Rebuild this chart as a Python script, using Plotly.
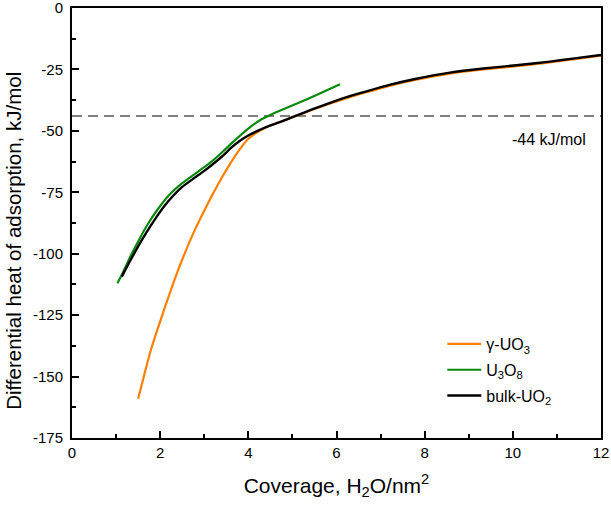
import plotly.graph_objects as go

# gamma-UO3
uo3_x = [1.5, 1.65, 1.8, 2.0, 2.2, 2.4, 2.6, 2.8, 3.0, 3.2, 3.4, 3.6, 3.8, 4.0, 4.2, 4.4, 4.7, 5.0, 5.5, 6.3, 6.68, 7.2, 7.81, 8.57, 9.33, 10.08, 10.84, 11.4, 12.0]
uo3_y = [-159, -148.5, -138.5, -127.5, -117, -107, -98, -89.8, -82.5, -75.5, -69, -63, -57.6, -53.2, -50.6, -48.6, -46.5, -44.5, -41.1, -36.3, -34.3, -31.7, -29.2, -26.7, -25.0, -23.7, -22.1, -20.8, -19.4]

# U3O8
u3o8_x = [1.03, 1.13, 1.3, 1.5, 1.7, 1.95, 2.2, 2.5, 2.75, 3.0, 3.2, 3.43, 3.66, 4.04, 4.3, 4.56, 5.17, 5.62, 6.08]
u3o8_y = [-112, -108.6, -102, -95, -88.5, -81.8, -76.2, -71.3, -68.0, -64.8, -62.0, -58.3, -54.4, -48.5, -45.3, -43.0, -38.4, -34.8, -31.0]

# bulk-UO2
uo2_x = [1.13, 1.3, 1.5, 1.7, 1.9, 2.1, 2.3, 2.5, 2.75, 3.0, 3.2, 3.43, 3.6, 3.81, 4.04, 4.26, 4.5, 4.79, 5.1, 5.4, 5.9, 6.3, 6.68, 7.2, 7.81, 8.57, 9.33, 10.08, 10.84, 11.4, 12.0]
uo2_y = [-109.3, -103.5, -97, -91, -85.5, -80.5, -76.3, -72.8, -69.5, -66.3, -63.5, -60, -57, -54, -51.5, -49.6, -47.8, -45.9, -43.7, -41.6, -38.3, -35.9, -33.9, -31.3, -28.8, -26.3, -24.6, -23.3, -21.8, -20.5, -19.1]

ref_level = -44
ref_label = "-44 kJ/mol"

y_ticks = [0, -25, -50, -75, -100, -125, -150, -175]
y_ticktext = ["0", "-25", "-50", "-75", "-100", "-125", "-150", "-175"]
x_ticks = [0, 2, 4, 6, 8, 10, 12]

x_title = "Coverage, H<sub>2</sub>O/nm<sup>2</sup>"
y_title = "Differential heat of adsorption, kJ/mol"

font_family = "Liberation Sans, Arial, sans-serif"

fig = go.Figure()
fig.add_trace(go.Scatter(x=[0, 12], y=[ref_level, ref_level], mode="lines",
                         line=dict(color="#808080", width=2, dash="10px,6px"),
                         showlegend=False, hoverinfo="skip"))
fig.add_trace(go.Scatter(x=uo3_x, y=uo3_y, mode="lines", name="γ-UO<sub>3</sub>", legendgroup="a",
                         line=dict(color="#FF8000", width=2.2, shape="spline", smoothing=0.5)))
fig.add_trace(go.Scatter(x=u3o8_x, y=u3o8_y, mode="lines", name="U<sub>3</sub>O<sub>8</sub>", legendgroup="b",
                         line=dict(color="#0A8A0A", width=2.2, shape="spline", smoothing=0.5)))
fig.add_trace(go.Scatter(x=uo2_x, y=uo2_y, mode="lines", name="bulk-UO<sub>2</sub>", legendgroup="c",
                         line=dict(color="#000000", width=2.4, shape="spline", smoothing=0.5)))

fig.add_annotation(x=11.70, y=-53.7, xref="x", yref="y", text=ref_label,
                   showarrow=False, xanchor="right", yanchor="middle",
                   font=dict(size=16, color="#000000", family=font_family))

# y-axis title (placed as rotated text, slightly below the axis centre as in the reference)
fig.add_annotation(x=-0.112, y=0.458, xref="paper", yref="paper", text=y_title,
                   showarrow=False, textangle=-90, xanchor="center", yanchor="middle",
                   font=dict(size=20.5, color="#000000", family=font_family))

axis_common = dict(showline=True, linecolor="black", linewidth=2, mirror=True,
                   ticks="inside", tickcolor="black", tickwidth=1.5, ticklen=7,
                   showgrid=False, zeroline=False, automargin=False,
                   ticklabeloverflow="allow",
                   tickfont=dict(size=15, color="black", family=font_family))

fig.update_xaxes(range=[0, 12], tickvals=x_ticks,
                 minor=dict(ticks="inside", dtick=1, ticklen=4, tickcolor="black", tickwidth=1.5),
                 title=dict(text=x_title,
                            font=dict(size=21, color="black", family=font_family), standoff=18),
                 **axis_common)
fig.update_yaxes(range=[-175, 0], tickvals=y_ticks, ticktext=y_ticktext, ticklabelstandoff=4,
                 minor=dict(ticks="inside", dtick=12.5, tick0=0, ticklen=4, tickcolor="black", tickwidth=1.5),
                 **axis_common)

fig.update_layout(
    width=611, height=505,
    margin=dict(l=72, r=10, t=8, b=67),
    plot_bgcolor="white", paper_bgcolor="white",
    font=dict(family=font_family, color="black"),
    legend=dict(x=0.70, y=0.258, xanchor="left", yanchor="top",
                bgcolor="rgba(0,0,0,0)", font=dict(size=16, family=font_family),
                tracegroupgap=2, itemwidth=34),
)

fig.write_html("out.html")
